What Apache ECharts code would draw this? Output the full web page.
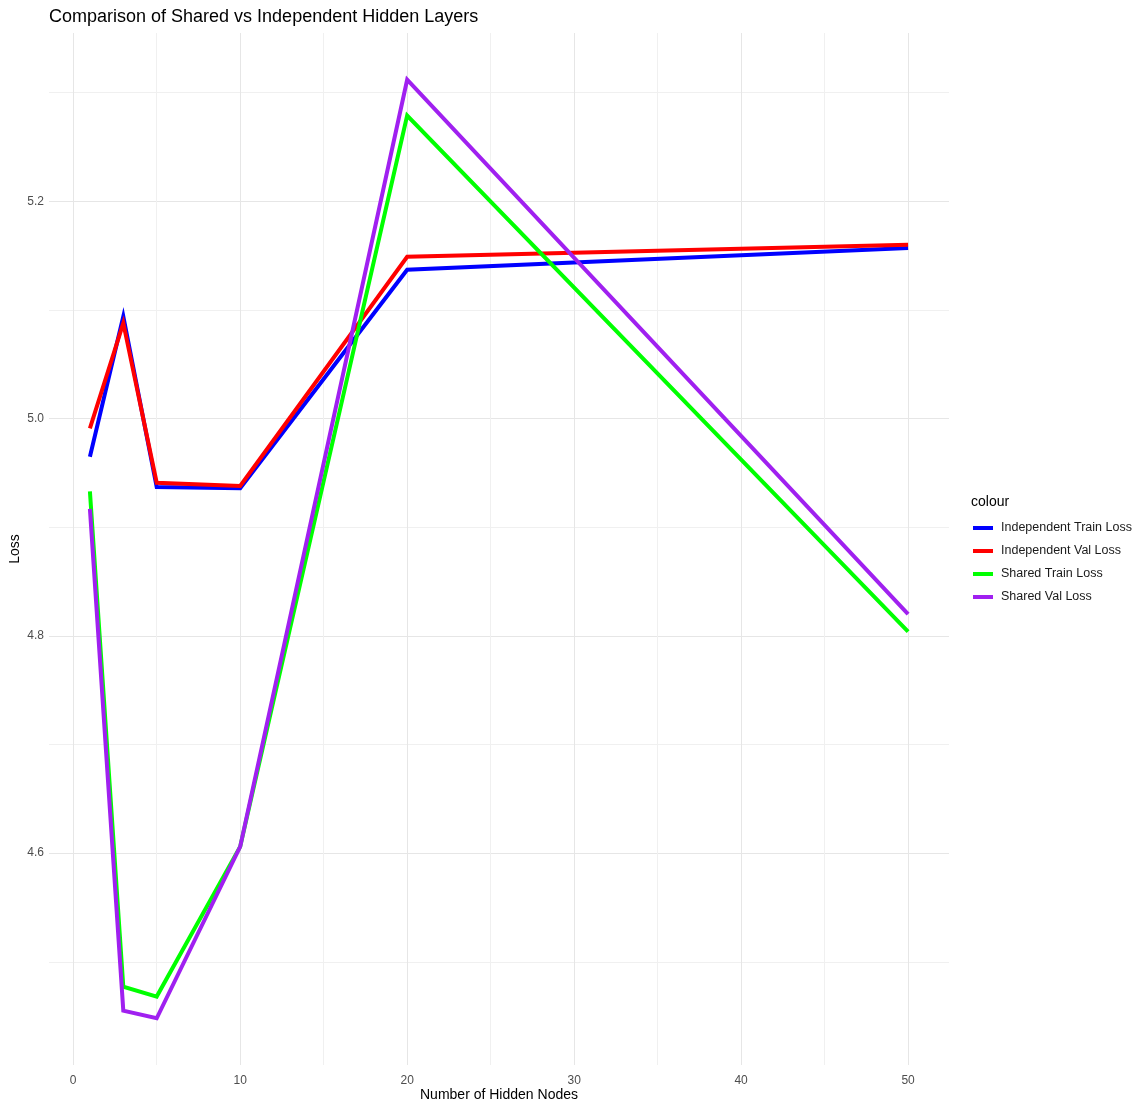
<!DOCTYPE html>
<html>
<head>
<meta charset="utf-8">
<script src="https://cdn.jsdelivr.net/npm/echarts@6/dist/echarts.min.js"></script>
<style>
  html, body { margin: 0; padding: 0; background: #fff; }
</style>
</head>
<body>
<div id="chart" style="width:1147px;height:1110px;"></div>
<script>
  // hidden nodes on x
  const hiddenNodes = [1, 3, 5, 10, 20, 50]

  // loss values
  const indepTrain = [4.965, 5.094, 4.937, 4.936, 5.137, 5.157]
  const indepVal = [4.991, 5.088, 4.941, 4.938, 5.149, 5.160]
  const sharedTrain = [4.933, 4.477, 4.468, 4.606, 5.279, 4.804]
  const sharedVal = [4.917, 4.455, 4.448, 4.606, 5.312, 4.820]

  const seriesNames = ['Independent Train Loss', 'Independent Val Loss', 'Shared Train Loss', 'Shared Val Loss']
  const seriesColors = ['#0000FF', '#FF0000', '#00FF00', '#A020F0']

  // ticks / grid lines
  const xGridValues = [0, 5, 10, 15, 20, 25, 30, 35, 40, 45, 50]
  const xLabelValues = [0, 10, 20, 30, 40, 50]
  const yGridValues = [4.5, 4.6, 4.7, 4.8, 4.9, 5.0, 5.1, 5.2, 5.3]
  const yLabelValues = [4.6, 4.8, 5.0, 5.2]

  const font = '"Liberation Sans", Arial, sans-serif'

  function pairs(ys) {
    const out = []
    for (let i = 0; i < hiddenNodes.length; i++) {
      out.push([hiddenNodes[i], ys[i]])
    }
    return out
  }

  const allData = [indepTrain, indepVal, sharedTrain, sharedVal]

  const option = {
    animation: false,
    backgroundColor: '#fff',
    textStyle: { fontFamily: font },
    title: [
      {
        text: 'Comparison of Shared vs Independent Hidden Layers',
        left: 49,
        top: 8,
        padding: 0,
        textStyle: { fontFamily: font, fontSize: 18, fontWeight: 'normal', color: '#000' }
      },
      {
        text: 'colour',
        left: 971,
        top: 495,
        padding: 0,
        textStyle: { fontFamily: font, fontSize: 14, fontWeight: 'normal', color: '#000' }
      }
    ],
    legend: {
      orient: 'vertical',
      left: 973,
      top: 521,
      padding: 0,
      icon: 'rect',
      itemWidth: 20,
      itemHeight: 4,
      itemGap: 9,
      textStyle: { fontFamily: font, fontSize: 12.5, color: '#1a1a1a', lineHeight: 14, padding: [0, 0, 0, 3] },
      data: seriesNames
    },
    grid: {
      left: 49,
      right: 198,
      top: 33,
      bottom: 45,
      containLabel: false,
      outerBoundsMode: 'none'
    },
    xAxis: {
      type: 'value',
      min: -1.45,
      max: 52.45,
      name: 'Number of Hidden Nodes',
      nameLocation: 'middle',
      nameGap: 23,
      nameMoveOverlap: false,
      nameTextStyle: { fontFamily: font, fontSize: 14, color: '#000' },
      axisLine: { show: false },
      axisTick: { show: false, customValues: xGridValues },
      axisLabel: {
        customValues: xLabelValues,
        color: '#4d4d4d',
        fontSize: 12,
        margin: 10
      },
      splitLine: {
        show: true,
        lineStyle: { color: ['#e6e6e6', '#f0f0f0'], width: 1 }
      }
    },
    yAxis: {
      type: 'value',
      min: 4.405,
      max: 5.355,
      name: 'Loss',
      nameLocation: 'middle',
      nameGap: 27,
      nameMoveOverlap: false,
      nameRotate: 90,
      nameTextStyle: { fontFamily: font, fontSize: 14, color: '#000' },
      axisLine: { show: false },
      axisTick: { show: false, customValues: yGridValues },
      axisLabel: {
        customValues: yLabelValues,
        color: '#4d4d4d',
        fontSize: 12,
        margin: 5,
        formatter: v => v.toFixed(1)
      },
      splitLine: {
        show: true,
        lineStyle: { color: ['#f0f0f0', '#e6e6e6'], width: 1 }
      }
    },
    series: seriesNames.map((name, i) => ({
      name: name,
      type: 'line',
      data: pairs(allData[i]),
      showSymbol: false,
      symbol: 'none',
      color: seriesColors[i],
      lineStyle: { width: 4, color: seriesColors[i], cap: 'butt', join: 'miter' },
      z: 2 + i
    }))
  }

  const chart = echarts.init(document.getElementById('chart'))
  chart.setOption(option)
</script>
</body>
</html>
